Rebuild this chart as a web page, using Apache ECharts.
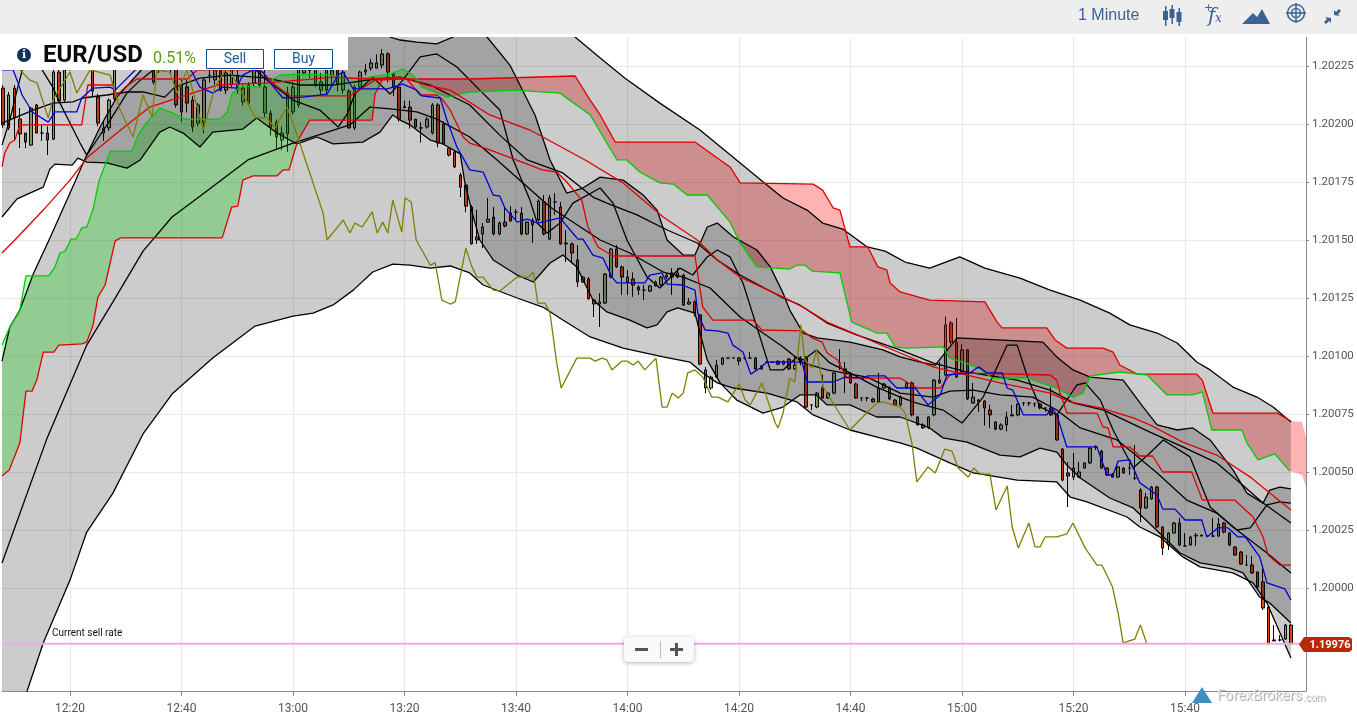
<!DOCTYPE html>
<html><head><meta charset="utf-8">
<style>html,body{margin:0;padding:0;background:#fff}#c{width:1357px;height:719px}</style>
<script src="https://cdn.jsdelivr.net/npm/echarts@6/dist/echarts.min.js"></script>
</head><body><div id="c"></div>
<script>
// All values: points above 1.20000 (1 point = 0.00001). Time = minutes since midnight.
const firstCandleMinute = 728;
// [open, close, low, high] one per minute
const candles = [
[215.5,199.6,198.3,216.8],[198.3,212.5,197.4,213.8],[215.5,202.6,193.1,216.8],[202.1,195.7,189.6,206.9],[196.1,192.2,189.6,196.1],[190.9,206.9,190.5,207.3],[208.2,196.1,196,208.6],[196.1,196.1,192.7,199.6],[196.1,193.1,186.6,199],[193.5,222.4,193,224],[222.4,209.9,209.5,226],[210.3,223.3,209,226],
[226,230,223,232],[232,228,226,233],[228,231,226,233],[231,226,224,232],[230,214.2,212,232],[211.6,200.4,199,213],[196.1,198.3,192.7,200.8],[198.3,210.3,197,211],[210.8,226,210,230],[226,232,224,234],[232,228,226,235],[229,233,228,236],[233,230,228,235],[230,234,228,237],[234,231,229,236],[228,218.1,217,229],[223,226,222,229],[226,224,223,228],[224,227,222,229],[224,208.2,207,224],[217.2,205.2,201,219],[216,209,205,219],[210.3,198.7,196.5,212],[200.4,208.2,199,209],[200.8,219,196,220],[221,221,218,224],[219,223,217,225],[223.3,214.6,214,226],[214.6,222,213,226],[217,224,216,226],[221,214.6,213,224],[209.5,215.5,208,217],[216.8,209,208,218],[217.7,223.3,216,226],[216.8,223,216,226],[204.7,215.9,203,225],[204.7,198.3,195,206],[200.8,194.4,188.8,202],[193.1,196.1,188.8,199],[195.7,213.3,188,216],
[205.2,215.9,204,218],[208.2,223.7,207,228],[222,226,221,228],[226,223,220,230],[217,224,216,228],[214.6,218.1,212,222],[214.6,223.7,212,228],[221,223,217,226],[225,217,214,228],[214.6,222.4,213,225],[214.2,198.3,198,215],[198.3,215.9,197.5,217],[215.9,222.4,215,223],[222.4,223.3,221,226],[224.1,226.3,223,228],[224.1,226.3,224,230],[225.4,230.2,224,232.3],[230.2,222.4,218,231],[221.5,215.9,212,222],[215.9,202.1,201,216],
[207,207.5,207,210],[207.3,201.7,198,210],[202.1,198.7,198,202],[198.3,198.3,192,200.8],[198.7,202.1,198,203],[196.1,208.2,195.5,209],[208.2,191.8,190,209],[200,191.4,191,201],[189.6,186.6,186,190],[187.9,181.5,181,188.5],[178,172.8,168.5,179],[173.7,164.6,162,174],[164.2,148.3,148,165],[151.3,150,148.3,163],[152.6,155.6,146.5,157.3],[157.7,159,157.5,168.1],[159.9,152.6,152,164.2],[152.6,157.3,152,158],[157.7,156,155.5,163.8],[161.6,158.2,158,164.6],
[162,162,158.6,163.3],[161.6,152.6,152,164.2],[152.6,157.7,152.2,158],[158.6,156.5,148.7,159.5],[158.6,166.8,158,167.5],[166.4,152.6,152,169.4],[150.4,168.1,150,169.4],[166.4,166.4,160.8,170.2],[164.2,148.3,148,166.4],[148.3,148.7,140.5,154.3],[148.3,144.4,140,149],[141.4,131.9,129.7,147.8],[131.9,134,131.5,134.5],[133.2,124.6,124.4,134],[124.1,122.4,116.8,124.5],[122.4,123.3,112.5,127.1],[122.8,135.3,122.4,135.8],[134,146.1,133.5,146.5],[146.1,138.4,138,147.8],[138.4,134,126.3,139],
[131.9,134,126.3,137],[133.2,130.6,125.5,136],[129.7,128.4,126.3,130.5],[128.4,128.4,124.1,130.6],[128,130.2,127.5,130.6],[130.2,131.9,130,132.5],[130.6,134,130.2,134.5],[134,134.8,133,136],[135.8,134,126.3,137.9],[134,135.8,133.5,138],[134.9,122,121.5,135.5],[122.4,123.3,122,125],[123.3,118.5,117,124],[117.7,96.5,96,118],[94,86.2,84,95.3],[86.2,90.9,85.5,91.5],[90.9,96.1,90.5,98.3],[96.5,99.1,96,99.5],[99.1,99.1,99,99.1],[99.1,99.1,99,99.1],
[99.1,97.8,96,99.5],[99.1,99.1,98.5,100],[99.1,99.1,99.1,101.7],[99.1,94.4,94,99.5],[94.4,95.7,94,96],[97.4,97.4,97.3,97.5],[97.4,97.4,97.3,97.5],[97.8,96.5,96,98],[96.5,97.8,96,98],[98.7,94.4,94,99],[94.4,96.1,94,100.4],[97,98.7,96,100],[99.1,78,77.5,100],[78.9,78.9,76.7,79],[78,84,77.5,84.5],[86.2,81.9,81.5,92],[81.9,84,81.5,84.5],[84,92.7,83.5,93],[97,97,94,103],[94.4,92.2,84,97.4],
[91.8,88.4,88,93],[87.9,81.9,81.5,88.5],[81.9,81.9,80.5,81.9],[81.9,81.9,80.5,81.9],[81.5,80.2,80,82],[80.2,86.2,80,92.7],[86.2,87.9,86,88.5],[86.2,81.5,81,87],[81,78.9,78.5,81.5],[78.9,82.3,78.5,83],[86.2,88.4,86,89],[88.4,74.6,74,89],[73.7,70.3,70,74],[70.3,69,68.5,71],[69,73.7,68.5,74],[74.6,89.6,74,90],[88.4,89.6,88,97.4],[91.8,113.4,91.5,117],[114.2,106,105,115],[106,90.9,90.5,116.4],
[93.1,102.6,92.8,105],[102.6,81.5,81,103],[79.7,82.3,79.5,88.4],[80.2,81,75.9,81.5],[80.6,77.6,70,81],[76.7,74.6,69,79],[71.5,68.5,68,72],[68.5,70.3,68,71],[70.3,73.7,67.5,76],[74.2,74.6,74.2,78.9],[74.6,79.3,74,79.7],[79.7,79.7,78.5,80.2],[79.7,79.7,78.5,80.2],[79.3,79.3,78,80],[79.3,77.6,77,79.7],[77.6,77.6,76,77.6],[77.6,74.6,74,86.6],[74.6,63.8,63.5,75],[59.9,46.5,46,60.3],[49.6,48.3,34.9,54.3],
[47.8,51.7,46.5,58.2],[47.8,50,47.5,54.3],[51.7,53.9,51.5,54],[53.9,60.3,53.5,60.8],[60.8,60.8,59.5,61.6],[59,51.7,51.5,59.5],[51.7,48.7,48.5,52],[49.1,47.8,47.5,49.5],[47.8,52.2,47.5,52.5],[51.7,49.6,49.2,52],[51.7,51.7,48.7,53.9],[47.4,47.4,46.5,61.6],[42.2,34.5,28.4,43],[34.5,39.2,34,41],[38.4,43.5,38,44],[43.5,26.3,26,44],[26.3,17.2,14.2,26.5],[18.5,23.7,16.4,24],[23.7,28,23.5,28.5],[28,18.5,18,30.2],
[18.1,18.1,18.1,23.7],[18.5,22,18.3,22.5],[22.4,22.8,18.1,23.7],[22.8,22.4,22.2,23],[22.4,22.4,22.2,22.6],[22.4,22.4,22.2,30.2],[22.4,27.6,22,30.2],[28,24.1,23.5,28.5],[23.7,18.5,18,24],[17.7,14.2,14,18],[15.5,10.3,10,16],[9.9,9.9,9.9,14.2],[9.9,6.5,6,13.8],[6.9,0.4,0,7],[2.6,-8.6,-9.5,9.9],[-8.2,-24.1,-24.1,-8],[-22.4,-22.8,-23,-16],[-22.4,-22.4,-23,-20.3],[-22,-16,-22.4,-15.5],[-16,-24.1,-24.1,-15.5]
];
const outerUpper=[[727.8,97.8],[729.2,112.5],[731,119.8],[733.4,135.3],[736.4,150.9],[740.4,172.4],[743,186.6],[745.4,198.7],[748.4,211.6],[752,221.1],[757.9,237.5],[772.3,266],[799.2,279],[820.7,266],[830.6,237.5],[835.1,228.4],[839.5,219.8],[845.8,209],[853,197.4],[859.6,184.4],[865,173.7],[867.9,168.1],[872.2,162.9],[875,157.3],[878.6,154.7],[883,147],[886.2,145.2],[889.8,140.5],[894.2,137.9],[899.6,142.7],[904.1,137.9],[910.4,133.6],[915.8,128.4],[921.2,124.1],[926.5,118.5],[930.1,113.4],[935,109.9],[938.6,105.6],[942.1,97.4],[944.5,94],[948.6,86.6],[952.9,82.3],[955.8,78],[959,71.5]];
const outerLower=[[727.8,-76.7],[732.3,-44.4],[735.2,-23.7],[740,3.4],[743,24.1],[747.7,40.9],[753.1,66.4],[758.3,83.6],[765.6,99.1],[773.2,112.9],[780,117.2],[783.6,118.5],[787.2,122],[790.8,128.4],[794.3,136.2],[797.9,139.6],[801,139.2],[804.6,137.9],[808.2,138.8],[811.7,135.8],[814.1,130.6],[820.2,125],[824.8,121.1],[828.4,115.5],[833.3,108.2],[839.2,103.4],[846.4,99.6],[851.2,97.4],[853.5,92.7],[856.1,88.4],[859,86.2],[865,84],[870.4,80.2],[873.3,74.6],[879.9,68.1],[885.3,64.7],[888.9,62.5],[891.9,60.3],[897.8,53.9],[902,49.6],[909.9,46.5],[917,45.7],[919.4,39.2],[922.4,37.1],[929.6,30.6],[931.9,26.3],[935.5,22],[939.6,13.4],[942.7,9.1],[948.6,6.5],[952.2,2.2],[954.7,-6.5],[959,-30.2]];
const innerUpper=[[727.8,253.4],[795.6,253.4],[797.4,237.5],[799.2,236.2],[802.2,235.3],[805.8,234.5],[808.7,237.5],[811.7,242.7],[814.8,237.5],[818.9,225.4],[823.4,203.9],[826.1,184.5],[829.1,170.2],[832,172.4],[835.1,177.1],[839.2,175.8],[842.8,169.4],[845.3,162.9],[847.1,150],[850,143.5],[852.1,143.5],[854.3,155.6],[856.1,157.3],[859,151.3],[863.2,145.7],[865.6,138.4],[867.9,127.1],[869.1,119.8],[871.5,109.9],[874,107.8],[879.9,106],[885.8,102.6],[888.9,99.6],[892.5,97.4],[895.2,96.1],[899.1,107.8],[914.5,106],[917,99.6],[919.9,94],[923,90.9],[928.9,89.6],[932.5,78],[935,70.3],[938.6,68.1],[941.4,69],[944.5,63.8],[948.6,50.9],[951.1,40.9],[954,36.6],[955.2,42.2],[957,43.5],[959,42.7]];
const innerLower=[[727.8,159.9],[730.5,167.7],[732.8,170.2],[735.2,172.8],[736.4,180.6],[737.3,182.7],[740.4,182.3],[741.4,185.3],[743,183.6],[746.6,183.2],[750.2,181],[752.6,184.5],[756.1,196.5],[757.9,198.7],[760.3,196.1],[763.3,190.1],[765.6,196.5],[771,197.8],[773.5,202.6],[777.1,196.1],[780.7,191.4],[784.3,194.4],[787.2,191.4],[792.5,192.2],[795.6,196.5],[797.9,203.9],[799.2,201.7],[801,199.6],[804.6,193.1],[806.9,191.4],[810,187.1],[810.8,175],[812.1,162.1],[813.5,150],[815.9,141.4],[820.2,134.9],[823.1,131.9],[826.1,140.1],[828.4,143.5],[830.9,138.4],[833.8,124.1],[836.3,119],[840.4,115.5],[843.5,112.1],[845.3,113.4],[847.1,119],[849,120.7],[852.1,118.5],[853,109.9],[854.3,98.3],[856.6,88.4],[859.6,81],[864.3,75.4],[867.9,78],[870.9,83.2],[873.9,83.2],[875.8,78.9],[879.9,78.9],[884.7,73.7],[888.9,73.7],[894.2,69],[896.6,64.7],[900.9,62.9],[906.8,57.3],[910.4,56.5],[914,60.3],[917,58.6],[918.8,53],[921.2,47.4],[926.5,38.8],[930.7,34.5],[934.3,26.3],[939.1,15.1],[942.7,10.8],[948.1,8.6],[950.4,6.5],[953.4,-3.9],[955.2,-6.5],[959,-15.1]];
const middleBand=[[727.8,10.8],[735.9,64.7],[743,104.7],[747.7,123.3],[753.1,145.2],[758.3,159.9],[763.3,168.9],[771.9,184.5],[780,191.8],[790.2,199.6],[793.8,207.3],[797.9,206.4],[802.2,205.2],[805.8,202.1],[809.4,197.4],[811.7,194.4],[816.6,184.5],[826.1,164.2],[835.1,150],[840.4,144.4],[846.4,136.2],[850,134],[854.8,129.3],[860.2,116.8],[867.9,103.9],[871.5,97],[875.8,94],[883,90.9],[888.9,84],[894.8,82.3],[897.8,84.9],[902,85.3],[906.8,83.2],[912.7,82.3],[917,76.7],[921.2,69],[927.8,63.8],[930.7,58.2],[935,49.6],[940.3,37.9],[945.7,32.3],[948.6,26.3],[954.7,15.1],[959,6.5]];
const blackAverage=[[727.8,200.4],[733.4,206],[736.9,209],[740.5,209.5],[742.3,211.2],[746.6,212.5],[750.2,213.8],[753.1,213.8],[757,211.6],[758.8,215.9],[763.3,219.8],[768.7,221.1],[775.3,219.8],[781.3,216.8],[787.2,216.8],[793.3,218.9],[799.2,220.2],[804.6,216.8],[811.7,208.2],[817.1,195.2],[822,184.5],[828.4,178.9],[833.8,168.5],[836.3,165.9],[841.7,160.8],[847.1,154.3],[852.5,148.7],[856.1,141.4],[860.2,134.9],[867.9,125],[870.9,122],[875.8,114.2],[881.2,109],[888.9,102.6],[894.8,97],[900.9,93.1],[909.9,89.6],[915.8,85.3],[920.1,79.7],[925.4,76.7],[933.7,67.2],[939.6,60.8],[945.7,53.9],[949.9,45.3],[954,36.6],[959,28]];
const redAverage=[[727.8,144.4],[730.1,150],[735.2,162.9],[740,175.8],[743.2,185.8],[748.4,196.1],[754.3,207.3],[759.2,211.2],[766.4,216.8],[775.3,217.7],[781.3,218.9],[787.2,220.2],[793.3,219.4],[799.2,220.2],[804,216.8],[808.2,214.6],[815.3,203.9],[822.5,197.4],[832.4,184.5],[839.2,174.6],[846.4,159.9],[852.5,150],[856.1,141.4],[860.2,134],[867.9,125.4],[871.5,121.1],[875.8,114.6],[888.9,101.3],[894.8,95.3],[900.9,91.8],[906.8,88.4],[915.8,84],[919.4,80.2],[924.8,77.6],[930.7,73.3],[933.7,70.3],[939.6,62.9],[945.7,57.3],[951.7,47.8],[955.2,40.9],[959,33.6]];
const fastBlack=[[727.8,190.9],[729.2,201.7],[730.5,214.6],[731.9,227.6],[735,223.3],[736.9,215.9],[738.2,209],[740,200.4],[741.8,191.8],[743,186.6],[744.8,193.1],[747.2,201.7],[750.2,213.3],[752.6,218.9],[756.1,225.4],[763.3,231.9],[770.5,229.7],[775.3,218.9],[780,210.3],[784.8,206],[788.1,198.7],[789.7,204.3],[791.1,212.9],[794.3,220.2],[797.4,212.9],[799.7,218.9],[802.8,228.9],[805.8,230.2],[809.4,224.6],[813.5,214.6],[817.1,206],[819.5,184.5],[822.5,167.2],[823.8,157.3],[825.6,153],[827.9,157.3],[830.2,165.9],[835.1,172.4],[837.4,165.9],[839.9,150],[843.5,134],[845.8,129.3],[849.4,137.9],[851.7,134.9],[854.3,142.7],[856.1,145.7],[858.4,142.7],[860.7,131.5],[863.2,112.5],[865.6,94],[867.9,94],[870.4,99.6],[871.5,98.3],[873.9,102.6],[876.3,97],[879.9,92.7],[884.7,86.6],[888.9,82.3],[891.9,79.7],[896.6,76.7],[900,71.1],[903.8,82.3],[908.1,104.7],[909.9,104.7],[911.8,90.5],[914,78],[917,74.6],[920.6,87.5],[922.1,88.4],[924.8,81],[927.1,68.1],[930.7,51.7],[933.7,58.2],[936.1,63.8],[940.9,56.5],[944.5,34.9],[949.3,25],[951.7,25.9],[954.7,35.8],[957,37.1],[959,36.6]];
const cloudSpanRed=[[727.8,48.3],[729.1,50.9],[731,62.5],[732.1,84.9],[733.2,84.9],[734.1,90.1],[735.2,101.7],[737.1,101.7],[738,104.7],[742.1,105.2],[743,106],[744.1,112.9],[745,125.4],[746.3,130.6],[748.1,149.6],[749.1,150.9],[767.3,150.9],[769,164.2],[770.1,164.6],[771,175.8],[772.8,177.6],[777.1,177.6],[778.2,180.2],[779.3,180.2],[779.8,184.5],[780.9,193.1],[783,201.7],[794.2,201.7],[794.7,212.9],[796.1,219.4],[802.1,219.4],[811.7,219.4],[830.6,220.7],[833.3,210.3],[835.1,203.9],[837.8,192.2],[852.1,192.2],[856.6,184.5],[858.4,181.5],[860.2,174.6],[873.3,174.1],[875,171.5],[876.9,163.8],[878.1,162.9],[879.9,147],[883.1,147],[884.9,138.4],[886.5,137.1],[887.1,131.5],[888.9,127.6],[894.2,124.1],[904.1,123.3],[906.3,114.6],[907.2,112.1],[915.2,112.1],[916.7,106.9],[918.8,103.4],[925.3,103.4],[927.1,101.7],[928.3,96.1],[931.4,92.2],[942.1,92.2],[943.1,89.6],[945,75.4],[956.5,75.4],[959,72]];
const cloudSpanGreen=[[727.8,104.7],[729.2,112.5],[731,119.8],[732.1,134.5],[736.2,134.5],[737.3,138.4],[738.2,144.4],[739.1,145.2],[740.2,150.4],[741.1,150.4],[742.1,155.2],[743,155.6],[744.1,162.9],[745.2,175.4],[746.3,182.3],[747.2,188.3],[751.1,188.3],[752.2,195.2],[753.8,200.8],[756.1,206.9],[758.5,204.7],[760.6,202.1],[766.9,202.1],[768.2,205.2],[769.1,213.3],[771,216.4],[774.1,215.9],[775.3,217.7],[777.7,221.1],[781.3,221.5],[787.2,221.1],[789,219.8],[792.5,219.8],[797.4,221.5],[799.7,223.7],[801.5,221.1],[802.1,219.4],[803.1,215.9],[807.6,211.6],[811.7,213.8],[819.8,214.6],[827.9,213.3],[833.3,203.9],[838.1,184.5],[839.9,184.5],[842.2,179.3],[845.8,174.6],[848.2,174.1],[850.7,169.4],[854.3,169.4],[858.4,157.7],[860.2,148.7],[863.2,138.4],[869.1,137.5],[870.4,139.2],[871.8,139.2],[873.1,136.6],[878.1,135.8],[880.2,114.6],[884.7,109.9],[886.5,109.9],[888,103.9],[890.1,103.4],[896.6,103.9],[897.8,99.1],[900.2,97.4],[902.9,94.8],[905.4,90.5],[911.7,90.5],[917,86.2],[919.9,82.3],[921.7,84],[923,91.4],[928.3,93.1],[933.2,91.8],[936.8,83.2],[941.4,83.2],[943.1,84.5],[944.8,68.1],[950.2,68.1],[951.1,62.5],[953.1,55.2],[956.1,57.8],[958.8,50.4]];
const cloudForwardRed=[[959,72],[961,71.5],[961.7,65.1]];
const cloudForwardGreen=[[958.8,50.4],[961,48.7],[961.7,43.5]];
const cloudCrossMinute=802.1;
const baseLine=[[727.8,181.5],[728.3,187.5],[729.2,191.8],[730.1,193.1],[731,199.6],[742.1,199.6],[743.2,216.8],[747.7,216.8],[748.1,211.6],[749.9,215.9],[752,219.4],[761,219.4],[762.8,223.3],[774.1,223.3],[776.8,216.8],[779.5,212.1],[790.2,212.1],[794.7,218.9],[800.4,219.4],[802.8,212.5],[805.8,212.5],[806.9,210.3],[808.2,206],[810.5,194.4],[811.7,191.8],[815.3,188.8],[822.5,182.3],[824.7,180.2],[827.3,179.3],[829.1,175],[831.8,167.2],[832.9,155.6],[834.7,147],[837.4,143.1],[852.1,143.1],[853.5,121.1],[855.3,115.5],[862.5,115.5],[864.1,111.2],[871.5,110.8],[873.1,107.8],[874.9,106],[875.8,101.3],[877.7,98.3],[879.3,90.5],[888.9,90.5],[891.9,86.2],[896.1,86.2],[897.8,91.8],[899.1,92.7],[915.8,91.8],[917,89.6],[917.6,84],[918.8,75.4],[924.2,75.4],[925.3,69.4],[926.2,69],[927.1,60.8],[930.1,60.8],[931.9,56.9],[934.2,56.9],[936,50],[941.2,50],[943.1,37.9],[948.9,37.9],[952.2,30.6],[954,22],[954.9,14.2],[957,9.9],[959,9.9]];
const conversionBlue=[[727.8,223.3],[729.8,223.3],[730.5,218.9],[731.4,212.5],[732.5,208.2],[733.2,205.2],[736.1,200.8],[737.3,205.2],[741.2,205.2],[742.1,211.2],[744.1,215.5],[747.2,215.9],[748.1,214.6],[751.7,223.3],[756.1,226.7],[761,225.4],[761.9,222.4],[763.3,215.9],[765.6,213.3],[767.4,215.9],[769.9,215.5],[771,221.1],[772.8,223.3],[774.6,222.4],[775.9,217.7],[778.2,211.2],[781.8,211.6],[786.1,212.9],[788.1,221.1],[789,222.4],[790.8,215.1],[795.2,215.1],[796.9,215.1],[799.7,217.2],[802.2,214.6],[803.1,212.1],[806.4,211.2],[807.6,201.7],[809.4,190.1],[811.7,180.2],[814.1,179.3],[815.9,169.4],[817.1,168.9],[818,163.8],[820.2,157.7],[822,159],[823.9,157.3],[827.9,159.5],[829.7,154.3],[831.1,150.4],[832,150.4],[833.8,143.5],[835.6,142.2],[837.2,134],[838.1,131.5],[843.1,131.5],[844,134.9],[846.2,135.8],[847.1,131],[849.8,130.6],[852.1,128.4],[852.6,118.5],[853.9,111.2],[856.1,110.8],[858,109.9],[858.9,104.7],[860.7,101.7],[862.1,92.2],[863.8,94.8],[865,97.4],[871.3,97.4],[872.2,88.8],[876.9,88.8],[879,90.9],[882.2,90.5],[883.1,91.4],[886.2,91.4],[888.3,86.2],[891.6,86.2],[893.9,78.9],[896.1,83.2],[897.3,91.8],[901.4,92.7],[903,95.3],[904.5,92.7],[907.2,92.7],[908.1,86.2],[909.1,85.3],[911,74.6],[915.2,74.6],[916.1,77.6],[917,74.6],[918.8,60.8],[924.2,60.8],[926,48.7],[927.1,48.7],[928,54.7],[930.1,55.2],[931.9,45.3],[935,40.1],[936,34],[938.2,34],[940,29.3],[943,29.3],[943.9,22],[945.9,25.9],[947.7,25.9],[949.5,22],[950.8,22],[953.4,13.4],[954.7,2.2],[957.9,-0.4],[959,-5.2]];
const laggingOlive=[[731,223.3],[732.8,218.9],[734.1,217.7],[736.1,202.6],[736.9,210.3],[740,222.4],[741.2,213.3],[743.6,223.3],[747.2,221.1],[749,206],[751.3,194.4],[753.1,212.5],[754.7,203],[755.6,223.3],[757.9,222.4],[759.2,213.3],[761,223.3],[763.9,197.4],[766,215.9],[768.2,224.6],[771.9,209],[773.2,202.6],[775.3,202.6],[776.8,198.3],[778.9,207.3],[780,200.4],[783,178.9],[785.4,161.6],[786.1,150],[789,158.6],[790.2,153],[791.1,157.3],[792.4,155.6],[794.2,162.1],[795.1,153],[796.1,157.7],[797,153],[797.9,167.2],[799.5,153.4],[800.1,168.1],[801.2,166.4],[802.1,150],[804.6,139.2],[805.5,140.1],[806.7,124.1],[808.2,122.4],[809.1,123.3],[811,146.5],[812.1,138.4],[813,134],[814.1,134],[815.9,128.4],[817.1,128],[820.2,134],[822.2,134],[823.1,136.2],[823.9,122.8],[825.2,122.8],[826.1,118.5],[827.3,97],[828.1,86.2],[830.9,99.1],[833.3,99.1],[834.2,97.8],[835.4,99.1],[836.3,98.3],[837.2,94],[839,97.8],[839.9,97.8],[841,96.1],[841.9,97.8],[843.1,94],[845.1,99.1],[846.2,78],[847.1,78],[848,84],[849.1,81.9],[850,84],[850.8,92.7],[852.1,94],[853.5,90.9],[855.1,82.3],[856.2,82.3],[858,80.2],[860,87.9],[861.1,81],[862,78.9],[864.1,88.4],[866.5,71.1],[867,69],[867.9,75.4],[869.1,90.5],[870,88.8],[871.1,113.4],[871.8,98.3],[873.1,94.8],[873.9,102.6],[875.1,86.6],[876.3,81.9],[879.9,68.1],[882.9,75.4],[884.7,79.7],[885.8,80.2],[888.9,78],[889.8,75.4],[891,62.5],[891.9,45.7],[893.9,52.2],[895.2,49.6],[896.9,59.9],[898.2,59],[899.3,51.7],[901.1,47.8],[902.1,51.7],[903.2,49.1],[905,49.1],[906.1,33.6],[908.1,44],[909,26.3],[910.1,17.2],[912,28],[913.1,17.7],[914,17.7],[914.9,22],[917,22],[918.8,23.3],[919.9,28],[922.1,17.2],[924.2,9.9],[925.1,9.9],[927,0.4],[928,-10.8],[928.9,-23.7],[931,-22],[932,-15.9],[933.1,-23.7]];
const sellRate = -24;
const xTickMinutes=[740,760,780,800,820,840,860,880,900,920,940];
const yTickPrices=[1.2,1.20025,1.2005,1.20075,1.201,1.20125,1.2015,1.20175,1.202,1.20225];
const xMin=727.8,xMax=961.7,yMin=1.199556,yMax=1.202375;

const price=v=>1.2+v/1e5;
const toLine=a=>a.map(p=>[p[0],price(p[1])]);
function lineSeries(a,color,z,w){return {type:'line',data:toLine(a),symbol:'none',silent:true,z:z||4,animation:false,
  lineStyle:{color:color,width:w||1.3},clip:true};}
function polySeries(top,bottom,fill,z){
  const pts=top.concat(bottom.slice().reverse());
  return {type:'custom',silent:true,clip:true,z:z,animation:false,data:[[pts[0][0],price(pts[0][1])]],
    encode:{x:0,y:1},
    renderItem:function(params,api){
      return {type:'polygon',shape:{points:pts.map(p=>api.coord([p[0],price(p[1])]))},style:{fill:fill,stroke:null}};
    }};
}
const splitA=cloudSpanGreen.filter(p=>p[0]<=cloudCrossMinute), splitB=cloudSpanRed.filter(p=>p[0]<=cloudCrossMinute);
const restA=cloudSpanGreen.filter(p=>p[0]>=cloudCrossMinute).concat(cloudForwardGreen.slice(1));
const restB=cloudSpanRed.filter(p=>p[0]>=cloudCrossMinute).concat(cloudForwardRed.slice(1));

const NAVY='#3a6392';
const graphics=[
 {type:'rect',shape:{x:0,y:0,width:1357,height:34},style:{fill:'#eeeeee'},z:100},
 {type:'rect',shape:{x:0,y:34,width:1357,height:3},style:{fill:'#ffffff'},z:100},
 {type:'rect',shape:{x:0,y:34,width:348,height:36},style:{fill:'#ffffff'},z:100},
 {type:'circle',shape:{cx:24,cy:55,r:7},style:{fill:'#13315c'},z:101},
 {type:'text',style:{x:24,y:55.5,text:'i',fill:'#fff',font:'bold 11px "DejaVu Serif"',align:'center',verticalAlign:'middle'},z:102},
 {type:'text',style:{x:43,y:56,text:'EUR/USD',fill:'#0a0a0a',font:'bold 24px Roboto',verticalAlign:'middle'},z:101},
 {type:'text',style:{x:153,y:59,text:'0.51%',fill:'#5c9e10',font:'16px Roboto',verticalAlign:'middle'},z:101},
 {type:'rect',shape:{x:206.5,y:49.5,width:57,height:19},style:{fill:'#fff',stroke:'#0e4a96',lineWidth:1},z:101},
 {type:'text',style:{x:235,y:59.5,text:'Sell',fill:'#1d5aa0',font:'14px Roboto',align:'center',verticalAlign:'middle'},z:102},
 {type:'rect',shape:{x:274.5,y:49.5,width:58,height:19},style:{fill:'#fff',stroke:'#0e4a96',lineWidth:1},z:101},
 {type:'text',style:{x:303.5,y:59.5,text:'Buy',fill:'#1d5aa0',font:'14px Roboto',align:'center',verticalAlign:'middle'},z:102},
 // top bar
 {type:'text',style:{x:1078,y:15.5,text:'1 Minute',fill:NAVY,font:'16px "Liberation Sans"',verticalAlign:'middle'},z:101},
 {type:'rect',shape:{x:1165,y:6,width:1.5,height:20},style:{fill:NAVY},z:101},{type:'rect',shape:{x:1163,y:11,width:5,height:9},style:{fill:NAVY},z:101},
 {type:'rect',shape:{x:1171.5,y:5,width:1.5,height:19},style:{fill:NAVY},z:101},{type:'rect',shape:{x:1169.5,y:9,width:5,height:9},style:{fill:NAVY},z:101},
 {type:'rect',shape:{x:1178.5,y:8,width:1.5,height:18},style:{fill:NAVY},z:101},{type:'rect',shape:{x:1176.5,y:12,width:5,height:10},style:{fill:NAVY},z:101},
 {type:'text',style:{x:1204,y:8,text:'+',fill:NAVY,font:'11px "DejaVu Sans"',verticalAlign:'middle'},z:101},
 {type:'text',style:{x:1208,y:17,text:'f',fill:NAVY,font:'italic 20px "DejaVu Serif"',verticalAlign:'middle'},z:101},
 {type:'text',style:{x:1215,y:19,text:'x',fill:NAVY,font:'italic 12px "DejaVu Serif"',verticalAlign:'middle'},z:101},
 {type:'polygon',shape:{points:[[1242,24],[1253,13],[1257,17],[1262,9],[1270,24]]},style:{fill:NAVY},z:101},
 {type:'circle',shape:{cx:1296,cy:13,r:8.5},style:{fill:'none',stroke:NAVY,lineWidth:1.5},z:101},
 {type:'circle',shape:{cx:1296,cy:13,r:4.5},style:{fill:'none',stroke:NAVY,lineWidth:1.5},z:101},
 {type:'line',shape:{x1:1286,y1:13,x2:1306,y2:13},style:{stroke:NAVY,lineWidth:1.5},z:101},
 {type:'line',shape:{x1:1296,y1:3,x2:1296,y2:23},style:{stroke:NAVY,lineWidth:1.5},z:101},
 {type:'polygon',shape:{points:[[1334,15],[1334,10],[1336,12],[1339,9],[1341,11],[1338,14],[1340,16]]},style:{fill:NAVY},z:101},
 {type:'polygon',shape:{points:[[1331,18],[1331,23],[1329,21],[1326,24],[1324,22],[1327,19],[1325,17]]},style:{fill:NAVY},z:101},
 // current-rate annotation
 {type:'text',style:{x:52,y:633.5,text:'Current sell rate',fill:'#111',font:'10px Roboto',verticalAlign:'middle'},z:60},
 {type:'polygon',shape:{points:[[1299,644.5],[1304,637],[1349,637],[1352,639],[1352,650],[1349,652],[1304,652]]},style:{fill:'#b8290a'},z:60},
 {type:'text',style:{x:1330,y:645,text:'1.19976',fill:'#fff',font:'bold 11px Roboto',align:'center',verticalAlign:'middle'},z:61},
 // zoom control
 {type:'rect',shape:{x:624,y:637,width:70,height:25,r:4},style:{fill:'#fafafa',shadowBlur:4,shadowColor:'rgba(0,0,0,0.3)',shadowOffsetY:1},z:60},
 {type:'rect',shape:{x:635,y:648,width:13,height:3},style:{fill:'#555'},z:61},
 {type:'rect',shape:{x:660,y:641,width:1,height:17},style:{fill:'#bbb'},z:61},
 {type:'rect',shape:{x:670,y:648,width:13,height:3},style:{fill:'#555'},z:61},
 {type:'rect',shape:{x:675,y:643,width:3,height:13},style:{fill:'#555'},z:61},
 // watermark
 {type:'polygon',shape:{points:[[1202,687],[1212,703],[1192,703]]},style:{fill:'#3f8fc4'},z:60},
 {type:'text',style:{x:1218,y:697,text:'ForexBrokers',fill:'#a8a8a8',font:'14.5px Roboto',verticalAlign:'middle'},z:60},
 {type:'text',style:{x:1304,y:699,text:'.com',fill:'#a8a8a8',font:'10px Roboto',verticalAlign:'middle'},z:60},
 {type:'text',style:{x:1217,y:696,text:'ForexBrokers',fill:'#eeeeee',font:'14.5px Roboto',verticalAlign:'middle'},z:61},
 {type:'text',style:{x:1303,y:698,text:'.com',fill:'#eeeeee',font:'10px Roboto',verticalAlign:'middle'},z:61}
];

const chart=echarts.init(document.getElementById('c'),null,{renderer:'canvas'});
chart.setOption({
 animation:false,backgroundColor:'#fff',
 grid:{left:2,right:51,top:37,bottom:28,containLabel:false},
 xAxis:{type:'value',min:xMin,max:xMax,axisLine:{onZero:false,lineStyle:{color:'#888',width:1}},
  axisTick:{length:5,customValues:xTickMinutes,lineStyle:{color:'#888'}},
  axisLabel:{customValues:xTickMinutes,margin:12,color:'#555',fontSize:12,fontFamily:'Roboto',
    formatter:v=>String(Math.floor(v/60))+':'+String(Math.round(v%60)).padStart(2,'0')},
  splitLine:{show:true,lineStyle:{color:'#e9e9e9',width:1}}},
 yAxis:{type:'value',position:'right',min:yMin,max:yMax,scale:true,axisLine:{show:true,onZero:false,lineStyle:{color:'#888',width:1}},
  axisTick:{show:true,length:3,customValues:yTickPrices,lineStyle:{color:'#888'}},
  axisLabel:{customValues:yTickPrices,margin:6,color:'#555',fontSize:11.5,fontFamily:'Roboto',formatter:v=>v.toFixed(5)},
  splitLine:{show:true,lineStyle:{color:'#e9e9e9',width:1}}},
 graphic:graphics,
 series:[
  {type:'candlestick',z:1,silent:true,barWidth:3,animation:false,clip:true,
   data:candles.map((c,i)=>[firstCandleMinute+i,price(c[0]),price(c[1]),price(c[2]),price(c[3])]),
   itemStyle:{color:'#9cc484',color0:'#f04a18',borderColor:'#000',borderColor0:'#000',borderColorDoji:'#000',borderWidth:1}},
  polySeries(splitA,splitB,'rgba(0,255,0,0.28)',2),
  polySeries(restB,restA,'rgba(255,0,0,0.3)',2),
  polySeries(outerUpper,outerLower,'rgba(0,0,0,0.2)',3),
  polySeries(innerUpper,innerLower,'rgba(0,0,0,0.2)',3),
  lineSeries(outerUpper,'#000'),lineSeries(outerLower,'#000'),
  lineSeries(innerUpper,'#000'),lineSeries(innerLower,'#000'),
  lineSeries(middleBand,'#000'),lineSeries(blackAverage,'#000'),lineSeries(fastBlack,'#000'),
  lineSeries(cloudSpanRed,'#e00000'),lineSeries(cloudSpanGreen,'#00cc00'),
  lineSeries(baseLine,'#e00000'),lineSeries(redAverage,'#e00000'),
  lineSeries(conversionBlue,'#0000d8'),lineSeries(laggingOlive,'#7f7f00'),
  lineSeries([[xMin,sellRate],[xMax,sellRate]],'#f2a8e8',5,2)
 ]
});
</script></body></html>
